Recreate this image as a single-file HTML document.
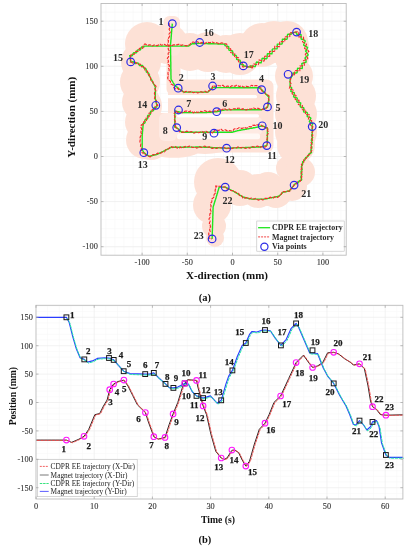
<!DOCTYPE html>
<html><head><meta charset="utf-8"><title>Figure</title>
<style>
html,body{margin:0;padding:0;background:#fff;}
body{width:408px;height:550px;overflow:hidden;}
svg{display:block;}
text{font-family:'Liberation Serif', 'Times New Roman', serif;}
.lb{font-size:9px;font-weight:bold;fill:#1a1a1a;stroke:#1a1a1a;stroke-width:0.25px;}
.lbt{font-size:10px;font-weight:bold;fill:#2a2a2a;}
.tk{font-size:8.3px;fill:#333;stroke:#333;stroke-width:0.12px;}
.ax{font-size:10.5px;font-weight:bold;fill:#111;}
.lg{font-size:7.9px;font-weight:bold;fill:#2a2a2a;}
.lg2{font-size:7.6px;fill:#222;}
</style></head>
<body>
<svg width="408" height="550" viewBox="0 0 408 550">
<rect width="408" height="550" fill="#fff"/>
<rect x="101" y="3.5" width="245.2" height="251.7" fill="#fff"/>
<path d="M105.9 3.5V255.2M115.0 3.5V255.2M124.0 3.5V255.2M133.1 3.5V255.2M142.1 3.5V255.2M151.1 3.5V255.2M160.2 3.5V255.2M169.2 3.5V255.2M178.3 3.5V255.2M187.3 3.5V255.2M196.3 3.5V255.2M205.4 3.5V255.2M214.4 3.5V255.2M223.5 3.5V255.2M232.5 3.5V255.2M241.5 3.5V255.2M250.6 3.5V255.2M259.6 3.5V255.2M268.7 3.5V255.2M277.7 3.5V255.2M286.7 3.5V255.2M295.8 3.5V255.2M304.8 3.5V255.2M313.9 3.5V255.2M322.9 3.5V255.2M331.9 3.5V255.2M341.0 3.5V255.2M101 246.7H346.2M101 237.7H346.2M101 228.7H346.2M101 219.6H346.2M101 210.6H346.2M101 201.6H346.2M101 192.6H346.2M101 183.6H346.2M101 174.5H346.2M101 165.5H346.2M101 156.5H346.2M101 147.5H346.2M101 138.5H346.2M101 129.4H346.2M101 120.4H346.2M101 111.4H346.2M101 102.4H346.2M101 93.4H346.2M101 84.3H346.2M101 75.3H346.2M101 66.3H346.2M101 57.3H346.2M101 48.3H346.2M101 39.2H346.2M101 30.2H346.2M101 21.2H346.2M101 12.2H346.2" stroke="#f6f6f6" stroke-width="0.6" fill="none"/>
<path d="M142.1 3.5V255.2M187.3 3.5V255.2M232.5 3.5V255.2M277.7 3.5V255.2M322.9 3.5V255.2M101 246.7H346.2M101 201.6H346.2M101 156.5H346.2M101 111.4H346.2M101 66.3H346.2M101 21.2H346.2" stroke="#ececec" stroke-width="0.7" fill="none"/>
<circle cx="147" cy="44" r="22" fill="#fde1d6"/>
<circle cx="141" cy="62" r="20" fill="#fde1d6"/>
<circle cx="140" cy="82" r="20" fill="#fde1d6"/>
<circle cx="141" cy="102" r="19" fill="#fde1d6"/>
<circle cx="144" cy="106" r="18" fill="#fde1d6"/>
<circle cx="143" cy="122" r="18" fill="#fde1d6"/>
<circle cx="145" cy="140" r="19" fill="#fde1d6"/>
<circle cx="151" cy="142" r="18" fill="#fde1d6"/>
<circle cx="168" cy="44" r="20" fill="#fde1d6"/>
<circle cx="190" cy="52" r="19" fill="#fde1d6"/>
<circle cx="208" cy="52" r="20" fill="#fde1d6"/>
<circle cx="226" cy="54" r="19" fill="#fde1d6"/>
<circle cx="240" cy="54" r="21" fill="#fde1d6"/>
<circle cx="262" cy="45" r="22" fill="#fde1d6"/>
<circle cx="274" cy="42" r="21" fill="#fde1d6"/>
<circle cx="287" cy="42" r="21" fill="#fde1d6"/>
<circle cx="291" cy="46" r="18" fill="#fde1d6"/>
<circle cx="292" cy="58" r="17" fill="#fde1d6"/>
<circle cx="294" cy="76" r="19" fill="#fde1d6"/>
<circle cx="296" cy="96" r="20" fill="#fde1d6"/>
<circle cx="296" cy="114" r="21" fill="#fde1d6"/>
<circle cx="296" cy="132" r="21" fill="#fde1d6"/>
<circle cx="296" cy="145" r="19" fill="#fde1d6"/>
<circle cx="300" cy="170" r="13" fill="#fde1d6"/>
<circle cx="288" cy="168" r="12" fill="#fde1d6"/>
<circle cx="218" cy="182" r="24" fill="#fde1d6"/>
<circle cx="212" cy="205" r="19" fill="#fde1d6"/>
<circle cx="214" cy="226" r="12" fill="#fde1d6"/>
<circle cx="215" cy="238" r="9" fill="#fde1d6"/>
<circle cx="240" cy="188" r="18" fill="#fde1d6"/>
<circle cx="258" cy="191" r="17" fill="#fde1d6"/>
<circle cx="268" cy="189" r="17" fill="#fde1d6"/>
<circle cx="276" cy="192" r="16" fill="#fde1d6"/>
<circle cx="292" cy="186" r="15" fill="#fde1d6"/>
<circle cx="300" cy="172" r="15" fill="#fde1d6"/>
<rect x="150" y="113" width="24" height="43" rx="6" fill="#fde1d6"/>
<rect x="166.5" y="40" width="14" height="55" rx="6" fill="#fde1d6"/>
<rect x="168" y="79.5" width="105.5" height="73" rx="7" fill="#fde1d6"/>
<rect x="165" y="95.1" width="92" height="3.2" rx="1.5" fill="#fff"/>
<rect x="176" y="117.6" width="86" height="17" rx="4" fill="#feeae3"/>
<rect x="177" y="114.3" width="82" height="3.3" rx="1.5" fill="#fff"/>
<rect x="177" y="133.6" width="83" height="5.6" rx="2" fill="#fff8f5"/>
<rect x="159" y="113" width="18" height="28" rx="6" fill="#feeae3"/>
<ellipse cx="174" cy="150" rx="26" ry="7.8" fill="#fde1d6"/>
<ellipse cx="205" cy="149" rx="20" ry="5" fill="#fde1d6"/>
<rect x="163.5" y="16" width="16.5" height="40" rx="6" fill="#fee4da"/>
<path d="M172.3 23.7 L172.2 24.5 L172.2 25.3 L172.1 26.2 L172.0 27.0 L172.0 27.8 L171.9 28.6 L171.8 29.4 L171.7 30.3 L171.7 31.1 L171.6 31.9 L171.5 32.7 L171.5 33.5 L171.4 34.4 L171.3 35.2 L171.3 36.0 L171.2 36.8 L171.1 37.6 L171.1 38.4 L171.0 39.3 L170.9 40.1 L170.8 40.9 L170.8 41.7 L170.7 42.5 L170.6 43.4 L170.6 44.2 L170.5 45.0 L170.5 45.8 L170.5 46.6 L170.5 47.4 L170.5 48.2 L170.6 49.0 L170.6 49.9 L170.6 50.7 L170.6 51.5 L170.6 52.3 L170.6 53.1 L170.6 53.9 L170.6 54.7 L170.7 55.5 L170.7 56.3 L170.7 57.1 L170.7 58.0 L170.7 58.8 L170.7 59.6 L170.7 60.4 L170.7 61.2 L170.8 62.0 L170.8 62.8 L170.8 63.6 L170.8 64.4 L170.8 65.2 L170.8 66.0 L170.8 66.9 L170.8 67.7 L170.8 68.5 L170.9 69.3 L170.9 70.1 L170.9 70.9 L170.9 71.7 L170.9 72.5 L170.9 73.3 L170.9 74.1 L170.9 75.0 L171.0 75.8 L171.0 76.6 L171.0 77.4 L171.0 78.2 L171.0 79.0 L171.4 79.8 L171.9 80.5 L172.3 81.2 L172.8 82.0 L173.2 82.8 L173.6 83.5 L174.1 84.2 L174.5 85.0 L175.1 85.5 L175.7 86.1 L176.3 86.6 L177.0 87.1 L177.6 87.7 L178.2 88.2 L178.9 88.7 L179.6 89.2 L180.3 89.7 L181.0 90.2 L181.7 90.6 L182.4 91.1 L183.1 91.6 L183.8 92.1 L184.6 92.1 L185.4 92.1 L186.2 92.1 L187.0 92.1 L187.8 92.1 L188.6 92.1 L189.4 92.1 L190.3 92.1 L191.1 92.1 L191.9 92.1 L192.7 92.1 L193.5 92.1 L194.3 92.1 L195.1 92.1 L195.9 92.1 L196.7 92.1 L197.5 92.1 L198.3 92.1 L199.1 92.1 L199.9 92.1 L200.7 92.1 L201.5 92.1 L202.4 92.1 L203.2 92.1 L204.0 92.1 L204.8 92.1 L205.6 92.1 L206.4 92.1 L207.2 92.1 L208.0 92.1 L208.6 91.5 L209.1 90.9 L209.7 90.4 L210.2 89.8 L210.8 89.2 L211.4 88.7 L211.9 88.1 L212.5 87.5 L213.3 87.5 L214.1 87.5 L214.9 87.5 L215.8 87.5 L216.6 87.6 L217.4 87.6 L218.2 87.6 L219.0 87.6 L219.8 87.6 L220.6 87.6 L221.4 87.6 L222.3 87.6 L223.1 87.6 L223.9 87.6 L224.7 87.6 L225.5 87.6 L226.3 87.6 L227.1 87.6 L228.0 87.6 L228.8 87.6 L229.6 87.7 L230.4 87.7 L231.2 87.7 L232.0 87.7 L232.8 87.7 L233.7 87.7 L234.5 87.7 L235.3 87.7 L236.1 87.7 L236.9 87.7 L237.7 87.7 L238.5 87.7 L239.4 87.7 L240.2 87.7 L241.0 87.7 L241.8 87.7 L242.6 87.7 L243.4 87.7 L244.2 87.7 L245.1 87.7 L245.9 87.7 L246.7 87.7 L247.5 87.7 L248.3 87.7 L249.1 87.8 L249.9 87.8 L250.8 87.8 L251.6 87.8 L252.4 87.8 L253.2 87.8 L254.0 87.8 L254.8 87.8 L255.6 87.8 L256.5 87.8 L257.3 87.8 L258.1 87.8 L258.9 87.8 L259.6 88.2 L260.2 88.7 L260.9 89.1 L261.6 89.6 L262.2 90.2 L262.8 90.8 L263.4 91.4 L264.0 92.1 L264.6 92.7 L265.2 93.3 L265.8 93.9 L266.4 94.5 L267.0 95.2 L267.6 95.8 L268.2 96.4 L268.8 97.0 L268.8 97.9 L268.7 98.8 L268.7 99.6 L268.6 100.5 L268.6 101.4 L268.6 102.2 L268.5 103.1 L268.5 104.0 L268.2 104.8 L267.9 105.7 L267.7 106.6 L267.4 107.4 L266.6 107.7 L265.7 108.1 L264.9 108.4 L264.1 108.7 L263.3 109.0 L262.4 109.4 L261.6 109.7 L260.8 109.7 L260.0 109.7 L259.2 109.7 L258.3 109.7 L257.5 109.7 L256.7 109.7 L255.9 109.7 L255.1 109.7 L254.3 109.7 L253.5 109.7 L252.7 109.7 L251.8 109.8 L251.0 109.8 L250.2 109.8 L249.4 109.8 L248.6 109.8 L247.8 109.8 L247.0 109.8 L246.1 109.8 L245.3 109.8 L244.5 109.8 L243.7 109.8 L242.9 109.8 L242.1 109.8 L241.3 109.8 L240.5 109.8 L239.6 109.8 L238.8 109.8 L238.0 109.8 L237.2 109.8 L236.4 109.8 L235.6 109.8 L234.8 109.8 L233.9 109.9 L233.1 109.9 L232.3 109.9 L231.5 109.9 L230.7 109.9 L229.9 109.9 L229.1 109.9 L228.3 109.9 L227.4 109.9 L226.6 109.9 L225.8 109.9 L225.0 109.9 L224.2 110.1 L223.3 110.3 L222.5 110.4 L221.7 110.6 L220.8 110.8 L220.0 111.0 L219.2 111.2 L218.4 111.3 L217.5 111.5 L216.7 111.7 L215.9 111.8 L215.0 111.8 L214.2 111.9 L213.4 112.0 L212.5 112.0 L211.7 112.1 L210.8 112.2 L210.0 112.2 L209.2 112.3 L208.3 112.3 L207.5 112.4 L206.7 112.5 L205.8 112.5 L205.0 112.6 L204.2 112.6 L203.4 112.6 L202.5 112.6 L201.7 112.6 L200.9 112.6 L200.1 112.6 L199.2 112.6 L198.4 112.6 L197.6 112.6 L196.8 112.6 L196.0 112.6 L195.1 112.6 L194.3 112.6 L193.5 112.6 L192.7 112.6 L191.9 112.6 L191.0 112.6 L190.2 112.6 L189.4 112.6 L188.6 112.6 L187.8 112.6 L186.9 112.6 L186.1 112.6 L185.3 112.6 L184.5 112.6 L183.6 112.6 L182.8 112.6 L182.0 112.6 L181.1 112.4 L180.2 112.2 L179.4 112.0 L178.5 111.8 L177.6 111.6 L176.8 111.4 L175.9 111.2 L175.0 111.0 L175.0 111.8 L175.0 112.6 L175.0 113.4 L174.9 114.2 L174.9 115.0 L174.9 115.8 L174.9 116.6 L174.9 117.4 L174.9 118.2 L174.8 119.0 L174.8 119.8 L174.8 120.6 L174.8 121.4 L174.8 122.2 L174.8 123.0 L174.8 123.8 L174.7 124.6 L174.7 125.4 L174.7 126.2 L174.7 127.0 L175.8 127.4 L176.9 127.8 L177.5 128.3 L178.1 128.9 L178.7 129.4 L179.2 130.0 L179.8 130.5 L180.4 131.1 L181.0 131.6 L181.6 132.2 L182.4 132.2 L183.2 132.2 L184.0 132.2 L184.8 132.2 L185.7 132.2 L186.5 132.2 L187.3 132.2 L188.1 132.2 L188.9 132.2 L189.7 132.2 L190.5 132.2 L191.3 132.2 L192.1 132.2 L193.0 132.2 L193.8 132.2 L194.6 132.2 L195.4 132.2 L196.2 132.2 L197.0 132.2 L197.8 132.2 L198.6 132.2 L199.5 132.2 L200.3 132.2 L201.1 132.2 L201.9 132.2 L202.7 132.2 L203.5 132.2 L204.3 132.2 L205.1 132.2 L205.9 132.2 L206.8 132.2 L207.6 132.2 L208.4 132.2 L209.2 132.2 L210.0 132.2 L210.8 132.2 L211.6 132.2 L212.4 132.2 L213.2 132.2 L214.0 132.2 L214.8 132.2 L215.6 132.2 L216.5 132.2 L217.3 132.2 L218.1 132.2 L218.9 132.2 L219.7 132.2 L220.5 132.2 L221.4 132.2 L222.2 132.2 L223.0 132.2 L223.8 132.2 L224.6 132.2 L225.5 132.2 L226.3 132.2 L227.1 132.2 L227.9 132.2 L228.7 132.2 L229.5 132.2 L230.4 132.2 L231.2 132.2 L232.0 132.2 L232.9 132.0 L233.7 131.7 L234.6 131.5 L235.4 131.3 L236.3 131.1 L237.1 130.8 L238.0 130.6 L238.8 130.5 L239.6 130.3 L240.4 130.2 L241.2 130.0 L242.0 129.9 L242.8 129.8 L243.6 129.6 L244.4 129.5 L245.2 129.3 L246.0 129.2 L246.8 129.0 L247.7 128.9 L248.5 128.8 L249.3 128.6 L250.2 128.4 L251.0 128.3 L251.8 128.2 L252.7 128.0 L253.5 127.8 L254.3 127.7 L255.2 127.6 L256.0 127.4 L256.8 127.2 L257.6 127.0 L258.3 126.8 L259.1 126.6 L259.9 126.4 L260.6 126.2 L261.4 126.0 L262.2 125.8 L262.9 126.1 L263.7 126.4 L264.4 126.7 L265.2 127.1 L265.9 127.4 L266.7 127.7 L267.4 128.0 L267.4 128.8 L267.4 129.7 L267.4 130.5 L267.4 131.3 L267.4 132.2 L267.4 133.0 L267.4 133.8 L267.4 134.7 L267.4 135.5 L267.4 136.3 L267.4 137.2 L267.4 138.0 L267.4 138.8 L267.4 139.7 L267.4 140.5 L267.4 141.3 L267.4 142.2 L267.4 143.0 L267.2 143.9 L267.0 144.7 L266.8 145.6 L265.9 145.8 L265.1 145.9 L264.2 146.1 L263.4 146.3 L262.6 146.5 L261.7 146.7 L260.9 146.8 L260.0 147.0 L259.2 147.0 L258.4 147.1 L257.6 147.1 L256.7 147.1 L255.9 147.1 L255.1 147.2 L254.3 147.2 L253.5 147.2 L252.7 147.3 L251.9 147.3 L251.0 147.3 L250.2 147.4 L249.4 147.4 L248.6 147.4 L247.8 147.4 L247.0 147.5 L246.2 147.5 L245.3 147.5 L244.5 147.6 L243.7 147.6 L242.9 147.6 L242.1 147.6 L241.3 147.7 L240.4 147.7 L239.6 147.7 L238.8 147.8 L238.0 147.8 L237.2 147.8 L236.4 147.8 L235.6 147.9 L234.7 147.9 L233.9 147.9 L233.1 148.0 L232.3 148.0 L231.5 148.0 L230.7 148.1 L229.9 148.1 L229.0 148.1 L228.2 148.1 L227.4 148.2 L226.6 148.2 L225.8 148.2 L225.0 148.1 L224.2 148.1 L223.4 148.1 L222.6 148.0 L221.8 148.0 L221.0 147.9 L220.2 147.9 L219.3 147.9 L218.5 147.8 L217.7 147.8 L216.9 147.8 L216.1 147.7 L215.3 147.7 L214.5 147.7 L213.7 147.6 L212.9 147.6 L212.1 147.5 L211.3 147.5 L210.5 147.5 L209.7 147.4 L208.9 147.4 L208.1 147.4 L207.3 147.3 L206.4 147.3 L205.6 147.3 L204.8 147.2 L204.0 147.2 L203.2 147.1 L202.4 147.1 L201.6 147.1 L200.8 147.0 L200.0 147.0 L199.2 147.0 L198.4 147.0 L197.5 147.0 L196.7 147.0 L195.9 147.0 L195.1 147.1 L194.3 147.1 L193.4 147.1 L192.6 147.1 L191.8 147.1 L191.0 147.1 L190.2 147.1 L189.3 147.1 L188.5 147.1 L187.7 147.1 L186.9 147.1 L186.1 147.1 L185.2 147.2 L184.4 147.2 L183.6 147.2 L182.8 147.2 L182.0 147.2 L181.1 147.2 L180.3 147.2 L179.5 147.2 L178.7 147.2 L177.9 147.2 L177.0 147.2 L176.2 147.2 L175.4 147.3 L174.6 147.3 L173.8 147.3 L172.9 147.3 L172.1 147.3 L171.3 147.3 L170.6 147.7 L169.8 148.0 L169.1 148.4 L168.4 148.8 L167.6 149.1 L166.9 149.5 L166.1 149.9 L165.4 150.2 L164.7 150.6 L163.9 151.0 L163.2 151.4 L162.5 151.7 L161.7 152.1 L161.0 152.5 L160.2 152.8 L159.5 153.2 L158.8 153.6 L158.0 153.9 L157.3 154.3 L156.5 154.5 L155.7 154.7 L154.9 154.9 L154.1 155.1 L153.2 155.3 L152.4 155.5 L151.6 155.7 L150.8 155.9 L150.0 156.1 L149.2 156.3 L148.5 155.9 L147.8 155.4 L147.2 154.9 L146.5 154.5 L145.8 154.1 L145.2 153.6 L144.5 153.1 L143.8 152.7 L143.4 151.8 L143.0 151.0 L142.6 150.2 L142.2 149.3 L142.2 148.5 L142.2 147.6 L142.2 146.8 L142.2 146.0 L142.2 145.2 L142.2 144.3 L142.2 143.5 L142.2 142.7 L142.2 141.8 L142.2 141.0 L142.2 140.2 L142.2 139.3 L142.2 138.5 L142.2 137.7 L142.2 136.9 L142.2 136.0 L142.2 135.2 L142.3 134.4 L142.4 133.5 L142.4 132.7 L142.5 131.8 L142.6 131.0 L142.7 130.1 L142.7 129.3 L142.8 128.4 L142.9 127.6 L143.0 126.7 L143.0 125.9 L143.1 125.0 L142.7 123.9 L143.7 123.5 L144.6 123.2 L145.1 122.5 L145.0 121.4 L144.8 120.4 L145.2 119.7 L146.2 119.3 L147.2 119.0 L147.8 118.3 L147.6 117.3 L147.5 116.3 L147.8 115.5 L148.8 115.1 L149.8 114.8 L150.4 114.2 L150.3 113.2 L150.4 112.1 L150.7 111.3 L151.8 111.1 L152.9 110.9 L153.6 110.4 L153.6 109.4 L153.7 108.3 L154.1 107.5 L155.2 107.4 L156.2 107.2 L156.9 106.6 L156.9 105.5 L156.7 104.7 L156.5 103.9 L156.3 103.1 L156.1 102.2 L155.9 101.4 L155.7 100.6 L155.5 99.8 L155.3 99.0 L155.3 98.2 L155.3 97.4 L155.3 96.6 L155.3 95.8 L155.3 95.0 L155.3 94.2 L155.3 93.4 L155.3 92.6 L155.3 91.8 L155.3 91.0 L155.3 90.2 L155.3 89.4 L155.3 88.6 L155.3 87.8 L155.3 87.0 L154.9 86.3 L154.5 85.5 L154.2 84.8 L153.8 84.1 L153.4 83.3 L153.0 82.6 L152.6 81.9 L152.2 81.2 L151.9 80.4 L151.5 79.7 L151.1 79.0 L150.7 78.2 L150.3 77.5 L150.0 76.8 L149.6 76.0 L148.8 75.5 L148.9 74.5 L148.9 73.5 L148.2 72.9 L147.2 72.5 L146.3 72.0 L146.2 71.1 L146.2 70.1 L146.2 69.1 L145.3 68.6 L144.4 68.2 L143.8 68.0 L143.4 67.1 L142.9 66.3 L142.5 65.4 L141.6 65.4 L140.6 65.5 L139.6 65.5 L139.1 64.8 L138.7 64.0 L138.2 63.1 L137.3 62.9 L136.4 63.2 L135.4 63.6 L134.7 63.2 L134.0 62.5 L133.3 61.8 L132.4 61.8 L131.5 62.2 L130.7 61.9 L130.6 61.1 L130.5 60.3 L130.4 59.5 L130.4 58.7 L130.3 57.9 L130.2 57.1 L129.7 55.7 L130.7 55.8 L131.8 55.8 L132.5 55.4 L132.8 54.4 L133.1 53.4 L133.7 52.8 L134.8 52.8 L135.8 52.9 L136.6 52.5 L136.9 51.5 L137.1 50.5 L137.7 49.9 L138.8 49.9 L139.8 50.0 L140.6 49.6 L140.9 48.6 L141.2 47.6 L141.7 46.9 L142.8 47.0 L143.9 47.0 L144.2 46.1 L145.0 46.1 L145.8 46.1 L146.6 46.1 L147.4 46.1 L148.2 46.1 L149.0 46.1 L149.8 46.1 L150.6 46.1 L151.5 46.1 L152.3 46.1 L153.1 46.1 L153.9 46.1 L154.7 46.1 L155.5 46.1 L156.3 46.1 L157.1 46.1 L157.9 46.1 L158.7 46.1 L159.5 46.1 L160.3 46.1 L161.1 46.1 L161.9 46.1 L162.7 46.1 L163.6 46.1 L164.4 46.1 L165.2 46.1 L166.0 46.1 L166.8 46.1 L167.6 46.1 L168.4 46.1 L169.2 46.1 L170.0 46.1 L170.8 46.1 L171.6 46.1 L172.4 46.1 L173.2 46.1 L174.0 46.1 L174.8 46.1 L175.6 46.1 L176.4 46.1 L177.2 46.1 L178.0 46.1 L178.8 46.1 L179.7 46.1 L180.5 46.1 L181.3 46.1 L182.1 46.1 L182.9 46.1 L183.7 46.1 L184.5 46.1 L185.3 46.1 L186.1 46.1 L186.9 46.1 L187.7 46.1 L188.5 46.1 L189.2 45.6 L189.9 45.2 L190.6 44.7 L191.3 44.3 L192.0 43.8 L192.9 43.8 L193.7 43.7 L194.6 43.7 L195.4 43.6 L196.3 43.6 L197.1 43.5 L198.0 43.5 L198.8 43.4 L199.7 43.4 L200.5 43.4 L201.3 43.5 L202.2 43.5 L203.0 43.5 L203.8 43.5 L204.6 43.6 L205.5 43.6 L206.3 43.6 L207.1 43.6 L207.9 43.7 L208.7 43.7 L209.6 43.7 L210.4 43.7 L211.2 43.8 L212.0 43.8 L212.9 43.8 L213.7 43.8 L214.5 43.9 L215.3 43.9 L216.2 43.9 L217.0 43.9 L217.8 44.0 L218.6 44.0 L219.4 44.0 L220.3 44.0 L221.1 44.1 L221.9 44.1 L222.7 44.1 L223.6 44.1 L224.4 44.2 L224.9 44.5 L224.9 45.5 L225.7 45.9 L226.8 46.1 L227.8 46.3 L228.7 46.6 L228.8 47.7 L228.8 48.7 L228.8 49.8 L229.4 50.4 L230.4 50.6 L231.4 50.8 L232.5 51.0 L232.7 51.9 L232.7 53.0 L232.7 54.1 L233.0 54.9 L234.0 55.1 L235.1 55.3 L236.1 55.5 L236.5 56.2 L236.6 57.3 L236.6 58.3 L236.6 59.4 L237.6 59.7 L238.7 59.9 L239.7 60.1 L240.3 60.7 L240.3 61.8 L240.3 62.9 L240.3 64.0 L241.2 64.3 L242.3 64.6 L243.3 64.8 L243.3 65.9 L244.1 66.0 L244.9 66.2 L245.7 66.3 L246.5 66.5 L247.3 66.6 L248.1 66.7 L248.9 66.9 L249.7 67.0 L250.5 67.2 L250.4 66.0 L251.4 66.0 L252.5 66.2 L253.7 66.4 L254.8 66.6 L255.4 66.1 L255.7 65.0 L255.9 63.9 L256.2 62.7 L256.7 62.0 L257.8 62.2 L258.9 62.5 L260.0 62.7 L261.1 62.9 L261.4 61.7 L261.6 60.6 L261.9 59.5 L262.1 58.4 L263.0 58.3 L264.1 58.5 L265.3 58.7 L266.5 58.7 L267.1 58.1 L267.1 57.0 L267.2 55.9 L267.2 54.8 L267.4 53.8 L268.5 53.8 L269.6 53.8 L270.7 53.8 L271.9 53.8 L272.1 52.9 L272.2 51.8 L272.2 50.7 L272.2 49.6 L272.8 48.9 L273.9 48.9 L275.0 48.9 L276.1 48.9 L277.1 48.8 L277.2 47.7 L277.2 46.6 L277.3 45.5 L277.3 44.3 L278.1 44.1 L279.3 44.1 L280.4 44.1 L281.5 44.1 L282.2 43.6 L282.2 42.5 L282.3 41.4 L282.3 40.2 L282.4 39.2 L283.5 39.2 L284.7 39.2 L285.8 39.2 L286.9 39.2 L287.2 38.4 L287.3 37.3 L287.3 36.1 L287.4 35.0 L287.8 34.3 L288.9 34.3 L290.1 34.3 L291.2 34.3 L291.1 33.1 L292.0 32.9 L292.9 32.8 L293.9 32.6 L294.8 32.4 L295.7 32.3 L296.3 32.3 L296.4 33.4 L296.7 34.2 L297.8 34.3 L298.9 34.4 L300.0 34.5 L301.1 34.6 L301.1 35.6 L301.1 36.7 L301.1 37.8 L301.1 38.9 L301.8 39.4 L302.8 39.3 L303.8 39.9 L304.8 40.4 L305.2 41.2 L304.7 42.2 L304.3 43.3 L303.8 44.3 L303.7 45.2 L304.7 45.8 L305.7 46.4 L306.7 46.9 L307.6 47.5 L307.1 48.6 L306.6 49.6 L306.2 50.7 L305.6 51.0 L306.2 51.9 L306.9 52.8 L307.5 53.7 L308.1 54.6 L307.8 55.4 L306.9 56.1 L306.1 56.8 L305.3 57.5 L305.0 58.3 L305.7 59.0 L305.9 60.1 L306.1 61.3 L306.0 62.2 L304.9 62.5 L303.8 62.9 L302.7 63.2 L301.8 63.6 L302.0 64.8 L302.2 65.9 L302.4 67.0 L302.2 68.5 L301.1 68.4 L300.0 68.4 L298.9 68.4 L297.7 68.3 L297.4 69.3 L297.3 70.4 L297.2 71.5 L297.1 72.6 L296.4 73.0 L295.2 73.0 L294.1 73.0 L293.0 72.9 L293.1 74.3 L292.7 75.0 L292.2 75.8 L291.8 76.5 L291.4 77.2 L291.0 77.9 L290.5 78.7 L290.1 79.4 L290.1 80.2 L290.1 81.1 L290.1 81.9 L290.1 82.8 L290.1 83.6 L290.1 84.5 L290.1 85.3 L290.1 86.2 L290.3 86.9 L291.4 87.3 L291.7 88.1 L291.4 89.3 L291.0 90.4 L290.8 91.4 L291.9 91.8 L293.1 92.3 L294.2 92.7 L294.4 93.5 L294.0 94.6 L293.7 95.8 L293.6 96.8 L294.7 97.3 L295.8 97.5 L296.8 97.8 L297.3 98.4 L297.1 99.5 L297.0 100.6 L296.8 101.7 L297.6 102.2 L298.7 102.4 L299.7 102.7 L300.7 103.0 L300.5 104.1 L300.4 105.2 L300.2 106.3 L300.5 107.0 L301.5 107.3 L302.6 107.5 L303.7 107.8 L303.9 108.6 L303.8 109.7 L303.7 110.8 L303.6 111.9 L304.7 112.1 L305.8 112.3 L307.0 112.5 L307.5 113.1 L307.4 114.3 L307.3 115.4 L307.2 116.5 L308.1 116.9 L309.2 117.1 L310.2 117.6 L310.9 118.3 L310.4 119.3 L309.9 120.4 L309.4 121.4 L309.8 122.1 L310.8 122.7 L311.8 123.2 L312.8 123.8 L312.3 124.8 L311.8 125.9 L312.2 126.6 L312.2 127.5 L312.2 128.3 L312.2 129.2 L312.2 130.0 L312.2 130.9 L312.2 131.8 L312.2 132.6 L312.2 133.5 L312.2 134.3 L311.6 135.2 L312.0 136.0 L312.3 136.9 L312.6 137.7 L312.1 138.5 L311.7 139.3 L311.3 140.1 L311.7 141.0 L312.0 141.9 L312.3 142.7 L311.8 143.5 L311.4 144.3 L311.0 145.1 L311.3 146.0 L311.7 146.9 L311.9 147.8 L311.5 148.6 L311.0 149.5 L310.8 150.3 L311.2 151.2 L311.5 152.3 L310.9 153.0 L310.1 153.4 L309.2 153.8 L308.6 154.4 L308.4 155.3 L308.1 156.3 L307.4 156.8 L306.5 157.2 L305.7 157.5 L305.2 158.3 L305.0 159.2 L304.8 160.0 L304.1 160.7 L303.4 161.3 L302.6 161.9 L302.6 162.8 L302.6 163.8 L302.6 164.5 L302.1 165.3 L301.6 166.2 L301.3 167.0 L301.6 167.8 L302.0 168.7 L302.2 169.5 L301.8 170.3 L301.3 171.1 L301.0 172.0 L301.3 172.8 L301.7 173.6 L302.0 174.4 L301.6 175.2 L301.2 176.0 L300.8 176.8 L301.0 177.6 L301.4 178.4 L301.7 179.2 L301.4 180.2 L300.4 180.4 L299.5 180.6 L298.9 181.3 L298.5 182.2 L298.0 183.0 L297.0 183.2 L296.1 183.4 L295.2 183.6 L294.7 184.5 L294.1 185.1 L293.5 185.8 L293.0 186.4 L292.4 187.1 L291.9 187.8 L291.3 188.4 L290.8 189.1 L290.2 189.8 L289.7 190.4 L289.1 191.1 L288.2 191.2 L287.4 191.4 L286.5 191.5 L285.7 191.7 L284.8 191.8 L284.0 192.0 L283.1 192.1 L282.5 192.7 L282.0 193.2 L281.4 193.8 L280.8 194.4 L280.2 195.0 L279.7 195.5 L279.1 196.1 L278.3 196.3 L277.5 196.4 L276.8 196.6 L276.0 196.8 L275.2 196.9 L274.4 197.1 L273.6 197.3 L272.8 197.4 L272.1 197.6 L271.3 197.8 L270.5 197.9 L269.7 198.1 L268.9 198.3 L268.1 198.4 L267.4 198.6 L266.6 198.8 L265.8 198.9 L265.0 199.1 L264.2 199.1 L263.4 199.1 L262.6 199.1 L261.8 199.1 L261.0 199.1 L260.2 199.1 L259.4 199.1 L258.6 199.1 L257.7 199.1 L256.9 199.1 L256.1 199.1 L255.3 199.1 L254.5 199.1 L253.7 199.1 L252.9 199.1 L252.1 199.1 L251.3 199.1 L250.5 198.9 L249.7 198.7 L248.9 198.5 L248.1 198.3 L247.3 198.1 L246.5 197.9 L245.7 197.7 L244.9 197.5 L244.1 197.3 L243.3 197.1 L242.6 196.7 L241.9 196.2 L241.1 195.8 L240.4 195.4 L239.7 195.0 L239.0 194.5 L238.2 194.1 L237.5 193.7 L236.8 193.2 L236.1 192.8 L235.4 192.4 L234.6 192.0 L233.9 191.5 L233.2 191.1 L232.5 190.7 L231.7 190.4 L231.0 190.0 L230.3 189.6 L229.6 189.3 L228.8 188.9 L228.1 188.6 L227.4 188.2 L226.7 187.8 L225.9 187.5 L225.2 187.1 L224.3 187.1 L223.5 187.1 L222.6 187.1 L221.8 187.1 L220.9 187.1 L220.1 187.1 L219.2 187.1 L219.0 187.9 L218.7 188.6 L218.5 189.4 L218.3 190.2 L218.0 190.9 L217.8 191.7 L217.6 192.5 L217.4 193.3 L217.1 194.0 L216.9 194.8 L216.7 195.6 L216.4 196.3 L216.2 197.1 L216.0 197.9 L215.7 198.7 L215.5 199.4 L215.2 200.2 L215.0 201.0 L214.8 201.8 L214.5 202.5 L214.3 203.3 L214.1 204.1 L213.8 204.9 L213.6 205.6 L213.3 206.4 L213.1 207.2 L213.1 208.0 L213.1 208.8 L213.0 209.7 L213.0 210.5 L213.0 211.3 L213.0 212.1 L212.9 213.0 L212.9 213.8 L212.9 214.6 L212.9 215.4 L212.8 216.3 L212.8 217.1 L212.8 217.9 L212.8 218.7 L212.7 219.6 L212.7 220.4 L212.7 221.2 L212.7 222.0 L212.6 222.8 L212.6 223.6 L212.6 224.4 L212.6 225.2 L212.5 226.0 L212.5 226.8 L212.5 227.6 L212.5 228.4 L212.4 229.2 L212.4 230.1 L212.4 230.9 L212.3 231.7 L212.3 232.5 L212.3 233.3 L212.3 234.1 L212.2 234.9 L212.2 235.7 L212.2 236.5 L212.2 237.3 L212.1 238.1 L212.1 238.9" stroke="#1ee61e" stroke-width="1.4" fill="none" stroke-linejoin="round"/>
<path d="M169.7 23.5 L169.2 24.3 L168.9 25.1 L169.6 25.9 L169.7 26.8 L169.8 27.6 L169.6 28.4 L169.1 29.2 L169.5 30.1 L169.8 30.9 L170.3 31.8 L170.2 32.6 L169.6 33.4 L169.0 34.1 L169.3 35.0 L169.6 35.8 L169.5 36.7 L168.9 37.4 L168.5 38.2 L168.1 39.0 L167.8 39.8 L168.5 40.7 L168.3 41.5 L168.3 42.3 L167.9 43.1 L167.7 43.9 L167.8 45.0 L168.2 45.8 L168.9 46.6 L168.6 47.5 L168.2 48.3 L168.3 49.1 L168.5 49.9 L169.3 50.7 L169.4 51.5 L169.1 52.3 L168.3 53.1 L168.1 53.9 L168.3 54.7 L168.5 55.6 L168.6 56.4 L168.3 57.2 L167.5 58.0 L167.4 58.8 L167.9 59.6 L168.2 60.4 L168.5 61.2 L168.2 62.0 L168.0 62.9 L168.2 63.7 L168.3 64.5 L169.3 65.3 L169.4 66.1 L169.0 66.9 L168.9 67.7 L168.6 68.5 L169.1 69.3 L169.1 70.1 L169.1 70.9 L168.7 71.7 L168.0 72.6 L168.0 73.4 L168.0 74.2 L168.4 75.0 L168.6 75.8 L168.3 76.6 L167.7 77.4 L167.7 78.2 L168.7 80.3 L169.6 80.8 L170.5 81.3 L170.4 82.3 L170.7 83.2 L171.1 84.0 L172.0 84.4 L173.0 84.9 L173.5 86.2 L173.7 87.2 L174.2 87.8 L174.7 88.5 L175.7 88.7 L176.4 89.1 L178.3 88.1 L178.4 89.3 L179.2 89.8 L180.0 90.1 L180.9 90.2 L181.6 90.7 L182.4 91.1 L182.9 92.0 L183.8 92.5 L184.6 92.1 L185.4 91.6 L186.2 91.4 L187.0 91.5 L187.8 91.9 L188.6 92.0 L189.4 91.9 L190.3 91.7 L191.1 91.4 L191.9 91.9 L192.7 92.5 L193.5 92.6 L194.3 92.5 L195.1 92.2 L195.9 92.1 L196.7 92.3 L197.5 92.9 L198.3 92.8 L199.1 92.4 L199.9 92.0 L200.7 91.7 L201.5 91.9 L202.4 92.2 L203.2 92.2 L204.0 91.4 L204.8 91.4 L205.6 91.4 L206.4 91.9 L207.2 92.3 L208.1 92.2 L208.5 91.5 L208.8 90.6 L209.6 90.3 L210.3 89.9 L211.3 89.7 L211.9 89.2 L212.2 88.3 L212.5 86.0 L213.3 85.8 L214.1 86.0 L215.0 86.3 L215.8 86.2 L216.6 85.8 L217.4 85.1 L218.2 85.5 L219.0 85.7 L219.8 85.8 L220.6 85.9 L221.5 85.6 L222.3 85.3 L223.1 85.4 L223.9 86.3 L224.7 86.9 L225.5 86.7 L226.3 86.5 L227.2 86.0 L228.0 86.1 L228.8 86.6 L229.6 86.9 L230.4 87.0 L231.2 86.1 L232.0 85.6 L232.9 86.0 L233.7 86.1 L234.5 86.1 L235.3 86.1 L236.1 85.3 L236.9 85.3 L237.7 85.7 L238.6 86.1 L239.4 86.5 L240.2 86.2 L241.0 86.0 L241.8 85.8 L242.6 86.4 L243.4 86.8 L244.2 87.3 L245.1 86.9 L245.9 86.4 L246.7 86.4 L247.5 86.6 L248.3 86.8 L249.1 86.9 L249.9 86.6 L250.8 85.9 L251.6 85.3 L252.4 85.6 L253.2 85.9 L254.0 86.0 L254.8 85.8 L255.7 85.6 L256.5 85.5 L257.3 86.0 L258.1 86.8 L259.4 87.0 L260.0 87.6 L260.9 87.8 L261.6 88.1 L261.4 89.8 L261.8 90.6 L262.3 91.3 L263.2 91.6 L264.2 91.8 L264.8 92.4 L265.2 93.3 L265.6 94.1 L266.4 94.5 L267.4 94.8 L268.2 95.2 L268.9 95.7 L268.9 97.0 L268.4 97.9 L268.5 98.7 L268.8 99.6 L268.9 100.5 L268.5 101.4 L267.6 102.2 L267.7 103.1 L267.9 103.8 L268.0 104.8 L267.9 105.7 L267.3 106.4 L267.1 106.7 L266.5 107.6 L266.0 108.7 L265.3 109.3 L264.3 109.3 L263.2 108.9 L262.4 109.4 L261.6 109.6 L260.8 109.5 L260.0 109.2 L259.2 108.7 L258.3 108.4 L257.5 108.4 L256.7 108.9 L255.9 109.2 L255.1 108.5 L254.3 108.2 L253.5 108.0 L252.6 108.1 L251.8 108.9 L251.0 109.1 L250.2 109.1 L249.4 109.1 L248.6 109.0 L247.8 109.3 L247.0 109.8 L246.1 109.9 L245.3 109.8 L244.5 109.2 L243.7 109.0 L242.9 108.7 L242.1 109.3 L241.3 109.3 L240.4 108.9 L239.6 108.2 L238.8 108.2 L238.0 108.1 L237.2 108.8 L236.4 109.0 L235.6 108.9 L234.8 108.8 L233.9 108.6 L233.1 109.1 L232.3 109.8 L231.5 109.7 L230.7 109.8 L229.9 109.3 L229.1 109.0 L228.3 109.4 L227.4 109.9 L226.6 109.8 L225.8 109.4 L224.7 108.7 L223.9 108.9 L223.1 109.1 L222.4 109.7 L221.5 109.9 L220.5 109.4 L219.7 109.3 L218.9 109.6 L218.1 110.2 L217.4 110.8 L216.7 111.2 L215.8 110.9 L215.0 110.9 L214.1 111.2 L213.3 111.7 L212.5 112.2 L211.7 112.0 L210.8 111.5 L209.9 111.1 L209.1 111.4 L208.3 111.7 L207.5 111.7 L206.6 111.6 L205.7 111.0 L205.0 110.7 L204.2 111.1 L203.4 111.8 L202.5 112.0 L201.7 111.5 L200.9 111.4 L200.1 111.5 L199.2 112.1 L198.4 112.3 L197.6 112.4 L196.8 112.0 L196.0 112.1 L195.1 111.8 L194.3 112.2 L193.5 112.8 L192.7 112.2 L191.9 111.6 L191.0 111.5 L190.2 111.0 L189.4 111.6 L188.6 111.8 L187.8 111.4 L186.9 111.0 L186.1 111.1 L185.3 111.1 L184.5 111.6 L183.6 112.2 L182.8 112.2 L182.0 112.7 L181.2 112.1 L180.1 112.7 L179.2 112.7 L178.3 112.7 L177.5 112.3 L176.7 111.5 L175.9 111.1 L175.2 111.0 L175.6 111.8 L174.8 112.6 L174.4 113.4 L173.9 114.2 L174.3 115.0 L174.6 115.8 L175.1 116.6 L174.7 117.4 L174.6 118.2 L174.4 119.0 L174.5 119.8 L174.8 120.6 L175.3 121.4 L175.6 122.2 L175.3 123.0 L174.6 123.8 L174.9 124.6 L175.2 125.4 L175.7 126.2 L175.0 126.2 L175.7 127.7 L176.6 128.2 L177.5 128.4 L177.9 129.1 L178.6 129.6 L178.8 130.5 L179.4 131.0 L179.8 131.8 L180.9 131.7 L181.6 132.2 L182.4 131.9 L183.2 132.1 L184.0 132.4 L184.8 132.4 L185.7 131.6 L186.5 131.1 L187.3 131.4 L188.1 131.7 L188.9 132.0 L189.7 132.1 L190.5 131.8 L191.3 131.6 L192.1 131.9 L193.0 132.5 L193.8 133.1 L194.6 132.9 L195.4 132.6 L196.2 132.1 L197.0 132.2 L197.8 132.4 L198.6 132.7 L199.5 132.4 L200.3 132.1 L201.1 131.6 L201.9 131.4 L202.7 131.9 L203.5 132.4 L204.3 131.8 L205.1 131.8 L205.9 131.3 L206.8 131.6 L207.6 132.4 L208.4 132.6 L209.2 132.7 L210.0 132.4 L210.8 132.4 L211.6 132.3 L212.4 133.0 L213.2 133.2 L214.0 131.2 L214.8 130.5 L215.6 130.1 L216.5 129.9 L217.3 130.3 L218.1 130.4 L218.9 130.4 L219.7 129.7 L220.5 129.3 L221.4 129.4 L222.2 130.3 L223.0 130.7 L223.8 130.5 L224.6 130.0 L225.5 129.9 L226.3 130.3 L227.1 130.9 L227.9 131.1 L228.7 131.1 L229.5 130.5 L230.4 130.7 L231.2 130.9 L231.7 131.0 L232.5 130.7 L233.3 130.3 L233.9 129.2 L234.8 128.8 L235.7 128.7 L236.7 129.0 L237.7 128.6 L238.4 128.1 L239.1 127.6 L240.0 127.9 L240.9 128.0 L241.7 128.5 L242.5 128.2 L243.3 127.9 L244.0 127.4 L244.9 127.5 L245.8 128.0 L246.7 128.1 L247.5 127.8 L248.2 127.1 L249.0 126.7 L249.8 126.6 L250.7 126.8 L251.6 126.7 L252.3 125.9 L253.0 125.2 L253.9 125.3 L254.7 125.1 L255.6 125.7 L256.4 125.6 L257.0 124.8 L257.8 124.8 L258.6 124.8 L259.5 124.9 L260.4 125.3 L261.2 125.2 L262.1 126.1 L262.9 126.2 L263.7 126.5 L264.2 127.2 L264.9 127.8 L265.6 128.0 L266.6 127.7 L267.7 128.0 L268.0 128.8 L267.7 129.7 L267.6 130.5 L267.8 131.3 L268.1 132.2 L268.3 133.0 L268.2 133.8 L267.3 134.7 L267.0 135.5 L266.9 136.3 L267.2 137.2 L267.4 138.0 L267.2 138.8 L266.9 139.7 L266.3 140.5 L266.6 141.3 L267.3 142.2 L267.6 143.0 L267.2 143.9 L267.0 144.7 L266.7 145.3 L266.1 146.3 L265.3 147.0 L264.4 147.1 L263.5 146.6 L262.6 146.6 L261.7 146.6 L260.9 147.0 L260.0 147.5 L259.2 147.2 L258.4 146.5 L257.5 146.2 L256.7 146.3 L255.9 146.9 L255.1 147.1 L254.3 147.2 L253.5 146.8 L252.6 146.7 L251.8 146.9 L251.1 147.8 L250.2 148.0 L249.4 148.1 L248.6 147.8 L247.8 147.6 L247.0 147.8 L246.2 148.2 L245.4 148.3 L244.5 148.0 L243.7 147.4 L242.9 147.2 L242.1 147.4 L241.3 147.9 L240.4 147.5 L239.6 147.5 L238.8 146.7 L238.0 146.7 L237.2 147.6 L236.4 147.9 L235.6 147.9 L234.7 147.7 L233.9 147.7 L233.1 147.9 L232.3 148.5 L231.5 148.6 L230.7 149.1 L229.9 148.5 L229.1 148.4 L228.2 148.1 L227.4 148.2 L226.6 148.9 L225.8 148.3 L225.0 147.9 L224.2 147.2 L223.4 147.2 L222.6 147.7 L221.8 147.7 L221.0 147.9 L220.2 147.7 L219.4 147.4 L218.6 147.3 L217.7 147.8 L216.9 148.4 L216.1 148.5 L215.3 148.1 L214.5 147.8 L213.7 147.6 L212.9 148.3 L212.1 148.3 L211.3 148.1 L210.5 147.9 L209.7 146.9 L208.9 146.9 L208.1 147.0 L207.2 147.5 L206.4 147.3 L205.7 146.8 L204.9 146.1 L204.1 146.3 L203.2 146.8 L202.4 147.2 L201.6 147.4 L200.8 147.2 L200.0 146.9 L199.2 146.7 L198.4 147.5 L197.5 147.7 L196.7 148.0 L195.9 147.6 L195.1 147.1 L194.3 147.2 L193.4 147.5 L192.6 147.4 L191.8 147.2 L191.0 146.6 L190.2 146.3 L189.3 146.2 L188.5 146.6 L187.7 147.0 L186.9 146.8 L186.1 146.8 L185.2 146.3 L184.4 146.8 L183.6 147.2 L182.8 147.7 L182.0 147.8 L181.1 147.6 L180.3 147.0 L179.5 147.7 L178.7 148.0 L177.9 148.2 L177.0 147.9 L176.2 147.1 L175.4 146.6 L174.6 147.1 L173.8 147.2 L172.9 147.5 L172.1 147.0 L171.0 146.6 L170.2 147.0 L169.6 147.7 L169.1 148.5 L168.3 148.8 L167.6 149.1 L166.8 149.4 L166.0 149.5 L165.4 150.3 L165.0 151.3 L164.4 151.9 L163.5 152.0 L162.6 152.0 L161.8 152.2 L161.2 152.9 L160.6 153.4 L159.7 153.6 L158.7 153.4 L157.6 153.1 L157.1 153.5 L156.4 154.2 L155.7 154.7 L154.8 154.7 L153.9 154.6 L153.1 154.6 L152.4 155.3 L151.7 155.9 L150.9 156.2 L150.2 156.8 L149.1 156.4 L148.6 155.8 L147.8 155.5 L146.7 155.7 L145.9 155.3 L145.4 154.6 L145.1 153.6 L144.7 152.9 L142.8 153.2 L142.0 152.5 L141.7 151.6 L141.4 150.7 L141.3 149.3 L141.5 148.5 L141.1 147.6 L140.5 146.8 L140.6 146.0 L140.6 145.2 L140.9 144.3 L140.8 143.5 L140.2 142.7 L139.9 141.8 L140.1 141.0 L140.2 140.2 L140.4 139.3 L140.3 138.5 L140.1 137.7 L140.2 136.9 L140.7 136.0 L141.2 135.1 L141.5 134.3 L141.4 133.4 L140.9 132.5 L141.0 131.7 L141.2 130.8 L142.0 130.1 L141.6 129.2 L141.4 128.3 L140.9 127.4 L140.8 126.5 L141.1 125.7 L141.4 124.9 L143.8 124.6 L143.6 123.5 L143.5 122.4 L143.9 121.7 L144.9 121.4 L146.0 121.1 L146.5 120.5 L146.3 119.4 L146.1 118.3 L146.5 117.5 L147.5 117.2 L148.5 116.9 L149.2 116.3 L149.0 115.2 L148.8 114.2 L149.0 113.3 L150.1 113.0 L151.2 112.9 L152.0 112.4 L152.0 111.3 L152.0 110.2 L152.4 109.4 L153.5 109.2 L154.6 109.1 L155.3 108.6 L155.3 107.4 L155.3 106.3 L155.8 105.6 L157.7 105.3 L157.4 104.5 L156.6 103.9 L156.1 103.1 L156.3 102.2 L156.6 101.3 L156.4 100.5 L155.7 99.8 L155.1 99.0 L154.5 98.2 L154.8 97.4 L155.2 96.6 L155.5 95.8 L155.1 95.0 L154.7 94.2 L154.4 93.4 L154.6 92.6 L155.1 91.8 L155.8 91.0 L155.6 90.2 L155.1 89.4 L154.9 88.6 L155.5 87.8 L156.0 86.6 L155.7 85.8 L155.0 85.3 L154.4 84.7 L153.9 84.0 L153.3 83.4 L153.1 82.6 L152.9 81.8 L152.1 81.2 L151.4 80.7 L150.6 80.2 L150.7 79.2 L150.7 78.2 L150.3 77.5 L149.6 77.0 L149.3 76.2 L149.6 75.1 L148.6 74.6 L147.7 74.2 L147.5 73.3 L147.5 72.3 L147.6 71.2 L146.8 70.7 L145.8 70.3 L144.8 69.9 L144.8 68.9 L144.9 67.9 L144.6 66.6 L143.6 66.6 L142.7 66.7 L141.7 66.8 L141.2 66.0 L140.8 65.1 L140.4 64.2 L139.5 64.1 L138.5 64.2 L137.5 64.3 L137.1 63.8 L136.4 63.0 L135.7 62.3 L134.9 62.3 L133.9 62.7 L133.0 63.1 L132.2 62.7 L131.5 62.0 L130.5 61.9 L130.9 61.1 L130.8 60.3 L130.6 59.5 L130.3 58.7 L129.5 58.0 L129.6 57.2 L130.6 56.9 L130.8 55.9 L131.0 54.8 L131.7 54.2 L132.8 54.3 L133.9 54.4 L134.6 54.0 L134.8 53.0 L135.1 51.9 L135.7 51.3 L136.8 51.4 L137.9 51.5 L138.6 51.1 L138.9 50.1 L139.1 49.0 L139.7 48.3 L140.8 48.4 L141.9 48.5 L142.7 48.2 L142.9 47.2 L143.2 46.1 L144.2 44.4 L145.0 44.0 L145.8 44.3 L146.6 44.9 L147.4 45.4 L148.2 45.5 L149.0 44.8 L149.8 44.8 L150.6 45.1 L151.5 46.0 L152.3 45.9 L153.1 45.6 L153.9 45.1 L154.7 45.0 L155.5 45.3 L156.3 45.6 L157.1 45.6 L157.9 45.4 L158.7 44.8 L159.5 44.2 L160.3 44.2 L161.1 45.0 L161.9 45.2 L162.7 44.7 L163.6 44.6 L164.4 44.4 L165.2 44.7 L166.0 45.3 L166.8 45.6 L167.6 45.4 L168.4 45.2 L169.2 45.1 L170.0 45.6 L170.8 45.6 L171.6 46.2 L172.4 45.5 L173.2 44.9 L174.0 44.8 L174.8 44.9 L175.6 45.0 L176.4 44.9 L177.2 44.9 L178.0 44.3 L178.8 44.4 L179.7 44.3 L180.5 44.9 L181.3 45.5 L182.1 45.0 L182.9 44.9 L183.7 45.0 L184.5 45.3 L185.3 45.5 L186.1 45.8 L186.9 45.6 L187.7 45.6 L187.9 45.1 L188.7 45.0 L189.7 44.8 L190.2 44.2 L190.7 43.3 L191.9 42.4 L192.8 42.0 L193.6 42.0 L194.5 42.6 L195.4 42.5 L196.2 42.1 L197.0 41.6 L197.9 42.1 L198.8 42.7 L199.7 43.1 L200.5 43.3 L201.4 42.5 L202.2 42.4 L203.0 42.7 L203.8 43.4 L204.6 43.6 L205.5 43.1 L206.3 42.5 L207.1 42.2 L208.0 42.3 L208.8 42.8 L209.6 42.6 L210.4 42.6 L211.3 42.1 L212.1 42.0 L212.9 42.3 L213.7 42.8 L214.5 43.0 L215.4 42.9 L216.2 42.6 L217.0 42.9 L217.8 43.0 L218.6 43.6 L219.4 44.1 L220.3 43.5 L221.1 43.0 L221.9 42.8 L222.8 43.3 L223.6 43.5 L224.4 43.8 L225.5 43.9 L226.6 44.1 L226.9 45.0 L226.8 46.1 L226.8 47.2 L227.0 48.1 L228.0 48.3 L229.1 48.4 L230.2 48.6 L230.8 49.2 L230.7 50.3 L230.7 51.4 L230.7 52.5 L231.6 52.8 L232.7 53.0 L233.8 53.1 L234.7 53.5 L234.6 54.6 L234.6 55.7 L234.6 56.8 L235.3 57.3 L236.3 57.5 L237.4 57.6 L238.5 57.8 L238.5 58.9 L238.5 60.1 L238.4 61.2 L238.8 61.9 L239.9 62.1 L241.0 62.3 L242.1 62.5 L242.3 63.5 L242.2 64.6 L242.2 65.7 L243.1 67.0 L244.0 66.8 L244.9 66.1 L245.7 66.1 L246.5 66.5 L247.2 67.1 L248.0 67.2 L248.9 66.7 L249.8 66.2 L250.6 66.3 L252.2 68.7 L252.6 67.8 L252.8 66.6 L253.0 65.4 L253.2 64.3 L254.0 63.9 L255.1 64.2 L256.3 64.5 L257.5 64.7 L258.3 64.6 L258.6 63.4 L258.8 62.2 L259.0 61.1 L259.2 59.9 L260.4 60.2 L261.5 60.5 L262.7 60.8 L263.9 61.0 L264.3 60.2 L264.5 59.0 L264.6 57.9 L264.6 56.7 L265.1 56.1 L266.3 56.2 L267.5 56.2 L268.7 56.3 L269.7 56.2 L269.7 55.0 L269.7 53.9 L269.7 52.7 L269.6 51.5 L270.5 51.3 L271.7 51.3 L272.9 51.4 L274.1 51.5 L274.7 51.0 L274.7 49.8 L274.7 48.6 L274.7 47.4 L274.8 46.4 L276.0 46.4 L277.1 46.5 L278.3 46.6 L279.5 46.6 L279.8 45.7 L279.7 44.6 L279.7 43.4 L279.7 42.2 L280.2 41.5 L281.4 41.6 L282.5 41.6 L283.7 41.7 L284.8 41.7 L284.8 40.5 L284.8 39.3 L284.8 38.1 L284.7 37.0 L285.6 36.7 L286.8 36.7 L288.0 36.8 L289.1 36.9 L289.8 36.4 L289.8 35.3 L289.8 34.1 L289.8 32.9 L291.0 32.5 L292.0 32.9 L293.0 33.1 L293.9 32.7 L294.7 32.2 L295.6 32.0 L296.9 31.8 L298.0 31.9 L298.8 32.3 L298.8 33.4 L298.7 34.5 L298.7 35.7 L298.6 36.8 L299.7 36.9 L300.9 36.9 L302.0 37.0 L303.2 37.0 L303.6 37.8 L303.6 39.1 L303.1 40.1 L302.5 41.2 L302.7 42.0 L303.7 42.6 L304.8 43.1 L305.9 43.6 L306.5 44.3 L306.0 45.4 L305.4 46.5 L304.9 47.5 L304.6 48.5 L305.6 49.1 L306.7 49.6 L307.8 50.1 L308.9 51.4 L308.1 52.1 L307.1 52.8 L306.2 53.5 L305.3 54.3 L305.5 55.1 L306.2 56.0 L306.9 56.9 L307.6 57.8 L307.7 58.7 L306.7 59.6 L305.5 59.9 L304.4 60.2 L303.5 60.7 L303.8 61.8 L304.1 63.0 L304.3 64.2 L304.4 65.3 L303.2 65.5 L302.0 65.8 L300.8 66.1 L300.1 66.0 L300.0 67.2 L299.9 68.3 L299.8 69.5 L299.8 70.7 L298.8 70.8 L297.6 70.7 L296.5 70.6 L295.3 70.5 L294.8 71.2 L294.7 72.3 L294.6 73.5 L294.5 74.7 L292.8 74.1 L292.8 75.1 L292.0 75.6 L291.3 76.2 L290.5 76.7 L290.6 77.7 L290.6 78.7 L290.6 79.4 L290.5 80.2 L289.8 81.1 L289.9 81.9 L290.5 82.8 L291.0 83.6 L290.8 84.5 L290.6 85.3 L290.2 86.2 L289.8 87.1 L289.4 88.3 L290.0 89.0 L291.1 89.4 L292.3 89.7 L293.3 90.2 L292.9 91.4 L292.5 92.5 L292.1 93.7 L292.7 94.4 L293.8 94.7 L295.0 95.1 L296.0 95.6 L295.6 96.7 L295.3 97.8 L295.1 99.0 L295.5 99.6 L296.6 99.9 L297.8 100.1 L298.9 100.3 L299.0 101.2 L298.8 102.3 L298.5 103.5 L298.4 104.5 L299.5 104.8 L300.7 105.0 L301.8 105.2 L302.4 105.7 L302.2 106.9 L301.9 108.0 L301.7 109.1 L302.4 109.7 L303.6 109.9 L304.8 110.0 L305.9 110.2 L305.7 111.4 L305.5 112.6 L305.4 113.7 L305.8 114.5 L307.0 114.6 L308.1 114.8 L309.3 114.9 L309.4 115.9 L309.2 117.1 L308.6 118.2 L308.4 119.1 L309.5 119.6 L310.5 120.2 L311.6 120.7 L311.7 121.5 L311.1 122.6 L310.5 123.6 L310.0 124.7 L311.0 125.2 L312.1 125.8 L312.8 126.6 L312.6 127.5 L312.1 128.3 L312.5 129.2 L312.7 130.0 L312.9 130.9 L312.7 131.8 L312.0 132.6 L312.0 133.5 L311.9 134.3 L312.8 135.2 L312.3 136.0 L311.8 136.8 L311.4 137.7 L311.8 138.5 L312.2 139.4 L312.5 140.2 L312.0 141.0 L311.5 141.8 L311.1 142.6 L311.5 143.5 L311.9 144.4 L312.2 145.2 L311.7 146.0 L311.2 146.9 L310.8 147.7 L311.3 148.6 L311.7 149.5 L311.8 150.4 L311.3 151.2 L310.9 151.8 L310.3 152.4 L310.0 153.4 L309.8 154.3 L309.2 154.9 L308.3 155.3 L307.4 155.6 L306.9 156.3 L306.7 157.3 L306.4 158.2 L305.7 158.7 L304.8 159.1 L303.8 159.5 L303.7 160.5 L303.7 161.4 L303.7 162.4 L303.0 163.0 L302.2 163.6 L301.4 164.5 L301.8 165.3 L302.2 166.2 L302.4 167.0 L301.9 167.8 L301.4 168.6 L301.1 169.5 L301.4 170.3 L301.8 171.2 L302.1 172.0 L301.6 172.8 L301.2 173.6 L300.8 174.4 L301.1 175.2 L301.5 176.0 L301.9 176.8 L301.6 177.6 L301.1 178.4 L300.7 179.2 L301.0 179.7 L300.6 180.6 L300.1 181.5 L299.2 181.7 L298.2 181.9 L297.3 182.0 L296.8 182.9 L296.4 183.8 L295.9 184.6 L294.9 184.7 L293.8 184.9 L293.7 185.9 L293.2 186.6 L292.9 187.5 L291.9 187.8 L291.4 188.5 L290.8 189.1 L290.8 190.2 L290.4 191.0 L289.1 191.4 L288.2 190.8 L287.3 191.1 L286.5 191.2 L285.7 191.7 L284.8 191.9 L283.9 191.5 L282.6 191.6 L282.1 192.2 L281.8 193.1 L281.5 193.9 L280.9 194.5 L280.3 195.0 L279.7 195.5 L279.1 196.1 L278.4 196.7 L277.8 197.5 L276.9 197.5 L276.1 197.3 L275.2 196.8 L274.4 197.1 L273.7 197.8 L273.0 198.1 L272.1 197.9 L271.2 197.5 L270.3 197.1 L269.6 197.5 L268.9 198.0 L268.1 198.3 L267.3 198.5 L266.5 198.4 L265.7 198.3 L265.0 198.4 L264.2 199.2 L263.4 199.6 L262.6 199.8 L261.8 199.5 L261.0 199.0 L260.2 199.0 L259.4 199.7 L258.6 200.1 L257.7 199.7 L256.9 199.4 L256.1 199.0 L255.3 198.5 L254.5 199.0 L253.7 199.0 L252.9 199.1 L252.1 198.4 L251.5 198.2 L250.7 198.3 L249.7 198.6 L248.9 198.6 L248.1 198.4 L247.4 197.8 L246.5 197.8 L245.7 197.6 L244.8 198.1 L243.9 198.2 L242.8 197.9 L242.4 197.0 L241.9 196.2 L241.2 195.7 L240.1 195.9 L239.4 195.4 L239.0 194.5 L238.6 193.4 L237.9 193.1 L237.0 192.9 L236.3 192.5 L235.5 192.1 L234.8 191.7 L234.2 191.1 L233.6 190.4 L232.5 190.7 L231.6 190.6 L230.8 190.5 L230.2 189.8 L229.5 189.5 L228.9 188.9 L227.8 189.1 L227.0 189.0 L226.4 188.4 L225.9 187.5 L225.2 187.0 L224.3 186.8 L223.5 187.0 L222.6 187.2 L221.8 187.0 L220.9 186.6 L220.1 186.3 L215.7 186.1 L215.9 187.0 L216.4 188.0 L215.9 188.6 L215.3 189.3 L215.3 190.1 L215.0 190.9 L215.7 191.9 L215.5 192.7 L215.1 193.4 L214.4 194.1 L214.1 194.8 L213.9 195.6 L213.9 196.4 L213.8 197.2 L213.1 197.9 L212.4 198.5 L211.8 199.2 L211.9 200.0 L211.8 200.8 L211.8 201.7 L211.5 202.5 L210.7 203.1 L210.3 203.8 L210.6 204.7 L211.1 205.7 L210.9 207.1 L211.0 208.0 L210.6 208.8 L210.3 209.6 L210.7 210.4 L211.0 211.3 L211.0 212.1 L210.8 212.9 L209.9 213.7 L209.9 214.5 L209.7 215.3 L210.0 216.2 L210.1 217.0 L209.8 217.8 L209.1 218.6 L209.1 219.4 L209.2 220.3 L210.1 221.1 L209.9 221.9 L209.5 222.7 L209.4 223.5 L209.4 224.3 L210.2 225.1 L210.3 226.0 L210.6 226.8 L210.0 227.6 L209.5 228.3 L209.8 229.2 L209.7 230.0 L209.9 230.8 L210.2 231.6 L209.5 232.4 L208.7 233.1 L208.9 234.0 L208.7 234.8 L209.4 235.6 L209.1 236.4 L209.1 237.2 L208.6 238.0 L212.1 238.9" stroke="#f42c2c" stroke-width="1.15" fill="none" stroke-dasharray="3.5 1"/>
<circle cx="172.3" cy="23.7" r="3.8" fill="none" stroke="#2a2ae6" stroke-width="1.2"/>
<circle cx="178.2" cy="88.2" r="3.8" fill="none" stroke="#2a2ae6" stroke-width="1.2"/>
<circle cx="212.6" cy="86" r="3.8" fill="none" stroke="#2a2ae6" stroke-width="1.2"/>
<circle cx="261.6" cy="89.6" r="3.8" fill="none" stroke="#2a2ae6" stroke-width="1.2"/>
<circle cx="267.5" cy="106.9" r="3.8" fill="none" stroke="#2a2ae6" stroke-width="1.2"/>
<circle cx="216.7" cy="111.7" r="3.8" fill="none" stroke="#2a2ae6" stroke-width="1.2"/>
<circle cx="178.5" cy="110" r="3.8" fill="none" stroke="#2a2ae6" stroke-width="1.2"/>
<circle cx="176.7" cy="127.6" r="3.8" fill="none" stroke="#2a2ae6" stroke-width="1.2"/>
<circle cx="214" cy="133.2" r="3.8" fill="none" stroke="#2a2ae6" stroke-width="1.2"/>
<circle cx="262.2" cy="125.8" r="3.8" fill="none" stroke="#2a2ae6" stroke-width="1.2"/>
<circle cx="266.8" cy="145.6" r="3.8" fill="none" stroke="#2a2ae6" stroke-width="1.2"/>
<circle cx="226.6" cy="148.2" r="3.8" fill="none" stroke="#2a2ae6" stroke-width="1.2"/>
<circle cx="143.8" cy="152.7" r="3.8" fill="none" stroke="#2a2ae6" stroke-width="1.2"/>
<circle cx="155.8" cy="105.3" r="3.8" fill="none" stroke="#2a2ae6" stroke-width="1.2"/>
<circle cx="130.7" cy="61.9" r="3.8" fill="none" stroke="#2a2ae6" stroke-width="1.2"/>
<circle cx="199.7" cy="42.5" r="3.8" fill="none" stroke="#2a2ae6" stroke-width="1.2"/>
<circle cx="243.3" cy="65.9" r="3.8" fill="none" stroke="#2a2ae6" stroke-width="1.2"/>
<circle cx="296.6" cy="32.1" r="3.8" fill="none" stroke="#2a2ae6" stroke-width="1.2"/>
<circle cx="288.1" cy="74.3" r="3.8" fill="none" stroke="#2a2ae6" stroke-width="1.2"/>
<circle cx="312.2" cy="126.6" r="3.8" fill="none" stroke="#2a2ae6" stroke-width="1.2"/>
<circle cx="294.1" cy="185.1" r="3.8" fill="none" stroke="#2a2ae6" stroke-width="1.2"/>
<circle cx="225.2" cy="187.1" r="3.8" fill="none" stroke="#2a2ae6" stroke-width="1.2"/>
<circle cx="212.1" cy="238.9" r="3.8" fill="none" stroke="#2a2ae6" stroke-width="1.2"/>
<text x="160.9" y="24.9" text-anchor="middle" class="lbt">1</text>
<text x="181.2" y="80.8" text-anchor="middle" class="lbt">2</text>
<text x="213" y="79.9" text-anchor="middle" class="lbt">3</text>
<text x="261.5" y="81.9" text-anchor="middle" class="lbt">4</text>
<text x="278" y="110.9" text-anchor="middle" class="lbt">5</text>
<text x="224.7" y="106.9" text-anchor="middle" class="lbt">6</text>
<text x="188.8" y="107.2" text-anchor="middle" class="lbt">7</text>
<text x="165.3" y="133.9" text-anchor="middle" class="lbt">8</text>
<text x="204.7" y="140.2" text-anchor="middle" class="lbt">9</text>
<text x="277.6" y="128.6" text-anchor="middle" class="lbt">10</text>
<text x="272" y="159.4" text-anchor="middle" class="lbt">11</text>
<text x="229.7" y="162.9" text-anchor="middle" class="lbt">12</text>
<text x="142.8" y="167.8" text-anchor="middle" class="lbt">13</text>
<text x="142.2" y="107.5" text-anchor="middle" class="lbt">14</text>
<text x="118.1" y="61.1" text-anchor="middle" class="lbt">15</text>
<text x="208.7" y="36.1" text-anchor="middle" class="lbt">16</text>
<text x="248.7" y="58.2" text-anchor="middle" class="lbt">17</text>
<text x="313.2" y="36.5" text-anchor="middle" class="lbt">18</text>
<text x="304.2" y="82.8" text-anchor="middle" class="lbt">19</text>
<text x="323.3" y="128.0" text-anchor="middle" class="lbt">20</text>
<text x="306.2" y="196.9" text-anchor="middle" class="lbt">21</text>
<text x="227.6" y="204.1" text-anchor="middle" class="lbt">22</text>
<text x="198.7" y="239.1" text-anchor="middle" class="lbt">23</text>
<rect x="256.8" y="221" width="87.4" height="30.2" fill="#fff" stroke="#bdbdbd" stroke-width="0.6"/>
<path d="M258.1 227.7H270.1" stroke="#1ee61e" stroke-width="1.3"/>
<path d="M258.1 236.9H270.1" stroke="#f03030" stroke-width="0.9" stroke-dasharray="2 1"/>
<circle cx="264.4" cy="246.8" r="3.6" fill="none" stroke="#2a2ae6" stroke-width="1.2"/>
<text x="272" y="229.9" class="lg" textLength="70.7" lengthAdjust="spacingAndGlyphs">CDPR EE trajectory</text>
<text x="272" y="239.7" class="lg" textLength="62" lengthAdjust="spacingAndGlyphs">Magnet trajectory</text>
<text x="272" y="249.2" class="lg" textLength="34.7" lengthAdjust="spacingAndGlyphs">Via points</text>
<rect x="101" y="3.5" width="245.2" height="251.7" fill="none" stroke="#bcbcbc" stroke-width="0.9"/>
<path d="M142.1 255.2v-2.5M142.1 3.5v2.5M187.3 255.2v-2.5M187.3 3.5v2.5M232.5 255.2v-2.5M232.5 3.5v2.5M277.7 255.2v-2.5M277.7 3.5v2.5M322.9 255.2v-2.5M322.9 3.5v2.5M101 246.7h2.5M346.2 246.7h-2.5M101 201.6h2.5M346.2 201.6h-2.5M101 156.5h2.5M346.2 156.5h-2.5M101 111.4h2.5M346.2 111.4h-2.5M101 66.3h2.5M346.2 66.3h-2.5M101 21.2h2.5M346.2 21.2h-2.5" stroke="#a0a0a0" stroke-width="0.7"/>
<text x="142.1" y="265.3" text-anchor="middle" class="tk">-100</text>
<text x="187.3" y="265.3" text-anchor="middle" class="tk">-50</text>
<text x="232.5" y="265.3" text-anchor="middle" class="tk">0</text>
<text x="277.7" y="265.3" text-anchor="middle" class="tk">50</text>
<text x="322.9" y="265.3" text-anchor="middle" class="tk">100</text>
<text x="97.8" y="249.2" text-anchor="end" class="tk">-100</text>
<text x="97.8" y="204.1" text-anchor="end" class="tk">-50</text>
<text x="97.8" y="159.0" text-anchor="end" class="tk">0</text>
<text x="97.8" y="113.9" text-anchor="end" class="tk">50</text>
<text x="97.8" y="68.8" text-anchor="end" class="tk">100</text>
<text x="97.8" y="23.7" text-anchor="end" class="tk">150</text>
<text x="227" y="279.3" text-anchor="middle" class="ax" style="font-size:11px">X-direction (mm)</text>
<text transform="translate(75.3 117.3) rotate(-90)" text-anchor="middle" class="ax" style="font-size:11px">Y-direction (mm)</text>
<text x="204.9" y="300.5" text-anchor="middle" class="ax">(a)</text>
<rect x="36" y="305.3" width="366.9" height="193.7" fill="#fff"/>
<path d="M47.6 305.3V499M59.3 305.3V499M70.9 305.3V499M82.6 305.3V499M105.8 305.3V499M117.5 305.3V499M129.1 305.3V499M140.8 305.3V499M164.0 305.3V499M175.7 305.3V499M187.3 305.3V499M199.0 305.3V499M222.2 305.3V499M233.9 305.3V499M245.5 305.3V499M257.2 305.3V499M280.4 305.3V499M292.1 305.3V499M303.7 305.3V499M315.4 305.3V499M338.6 305.3V499M350.3 305.3V499M361.9 305.3V499M373.6 305.3V499M396.8 305.3V499M36 493.4H402.9M36 482.0H402.9M36 476.3H402.9M36 470.7H402.9M36 465.0H402.9M36 453.6H402.9M36 447.9H402.9M36 442.3H402.9M36 436.6H402.9M36 425.2H402.9M36 419.5H402.9M36 413.9H402.9M36 408.2H402.9M36 396.8H402.9M36 391.1H402.9M36 385.5H402.9M36 379.8H402.9M36 368.4H402.9M36 362.7H402.9M36 357.1H402.9M36 351.4H402.9M36 340.0H402.9M36 334.3H402.9M36 328.7H402.9M36 323.0H402.9M36 311.6H402.9M36 305.9H402.9" stroke="#f6f6f6" stroke-width="0.6" fill="none"/>
<path d="M94.2 305.3V499M152.4 305.3V499M210.6 305.3V499M268.8 305.3V499M327.0 305.3V499M385.2 305.3V499M36 487.7H402.9M36 459.3H402.9M36 430.9H402.9M36 402.5H402.9M36 374.1H402.9M36 345.7H402.9M36 317.3H402.9" stroke="#ececec" stroke-width="0.7" fill="none"/>
<path d="M36.0 440.1 L66.4 440.1 L71.5 442.4 L78.9 439.2 L84.0 436.3 L88.7 429.4 L94.8 414.7 L99.7 413.5 L103.4 406.1 L107.1 400.0 L109.7 389.7 L113.6 384.0 L118.0 381.5 L123.9 380.1 L128.0 386.0 L132.8 395.7 L137.4 404.8 L145.4 412.6 L148.4 422.0 L153.8 436.7 L158.2 439.1 L165.0 437.4 L169.2 424.4 L173.1 413.9 L177.8 402.4 L182.5 387.1 L184.7 383.4 L187.6 379.7 L196.5 380.4 L197.9 387.1 L203.1 405.9 L206.5 414.6 L210.9 434.2 L215.8 451.4 L221.2 458.0 L224.0 459.5 L227.0 458.0 L231.9 450.3 L234.5 450.0 L238.5 452.5 L242.2 460.0 L245.8 466.1 L249.5 461.2 L254.4 444.0 L259.3 429.3 L265.0 423.2 L269.1 414.6 L274.0 402.4 L280.6 396.0 L288.7 378.5 L296.1 362.6 L303.4 355.2 L309.6 363.8 L312.6 367.5 L317.8 365.8 L322.7 362.6 L327.6 352.8 L333.7 352.3 L338.6 354.0 L344.8 358.9 L350.9 362.6 L353.3 365.0 L359.5 363.8 L364.4 368.7 L368.0 385.9 L370.5 401.0 L372.5 406.7 L376.6 409.6 L380.3 414.5 L385.9 415.2 L403.0 414.8" stroke="#2e2222" stroke-width="1.0" fill="none" stroke-linejoin="round"/>
<path d="M36.8 440.4 L67.2 440.4 L72.3 442.7 L79.7 439.5 L84.8 436.6 L89.5 429.7 L95.6 415.0 L100.5 413.8 L104.2 406.4 L107.9 400.3 L110.5 390.0 L114.4 384.3 L118.8 381.8 L124.7 380.4 L128.8 386.3 L133.6 396.0 L138.2 405.1 L146.2 412.9 L149.2 422.3 L154.6 437.0 L159.0 439.4 L165.8 437.7 L170.0 424.7 L173.9 414.2 L178.6 402.7 L183.3 387.4 L185.5 383.7 L188.4 380.0 L197.3 380.7 L198.7 387.4 L203.9 406.2 L207.3 414.9 L211.7 434.5 L216.6 451.7 L222.0 458.3 L224.8 459.8 L227.8 458.3 L232.7 450.6 L235.3 450.3 L239.3 452.8 L243.0 460.3 L246.6 466.4 L250.3 461.5 L255.2 444.3 L260.1 429.6 L265.8 423.5 L269.9 414.9 L274.8 402.7 L281.4 396.3 L289.5 378.8 L296.9 362.9 L304.2 355.5 L310.4 364.1 L313.4 367.8 L318.6 366.1 L323.5 362.9 L328.4 353.1 L334.5 352.6 L339.4 354.3 L345.6 359.2 L351.7 362.9 L354.1 365.3 L360.3 364.1 L365.2 369.0 L368.8 386.2 L371.3 401.3 L373.3 407.0 L377.4 409.9 L381.1 414.8 L386.7 415.5 L403.8 415.1" stroke="#ee4848" stroke-width="0.9" fill="none" stroke-dasharray="3 0.8"/>
<path d="M36.0 317.3 L66.4 317.3 L69.1 322.2 L72.8 336.9 L76.4 349.1 L80.1 357.7 L84.3 359.4 L87.5 362.1 L92.4 360.9 L97.3 358.4 L104.6 357.7 L109.0 358.0 L113.7 359.9 L118.1 365.0 L123.7 371.2 L130.0 373.6 L145.2 374.1 L149.6 374.1 L153.8 372.9 L159.4 378.5 L165.5 383.9 L169.2 387.6 L173.4 387.9 L177.8 387.1 L184.7 383.4 L188.4 384.0 L192.1 391.5 L196.5 395.9 L203.1 398.1 L210.4 395.9 L217.1 403.2 L221.2 400.3 L225.9 384.1 L228.7 376.1 L232.4 370.4 L237.3 356.5 L242.2 345.4 L245.8 343.0 L249.5 334.4 L252.0 331.5 L256.9 332.0 L261.8 330.2 L265.0 330.0 L270.3 330.7 L275.2 338.1 L280.9 345.4 L286.3 339.3 L291.2 328.3 L296.1 323.4 L298.5 327.0 L304.5 341.0 L309.7 353.0 L317.5 353.5 L323.4 368.2 L327.6 376.1 L333.7 383.4 L339.9 395.7 L342.3 399.8 L346.0 405.9 L349.7 414.5 L353.3 424.3 L355.8 425.0 L359.5 420.6 L363.1 424.3 L366.8 430.0 L370.5 426.8 L372.5 421.9 L376.6 420.6 L379.1 426.8 L381.5 442.7 L385.9 455.0 L388.9 457.4 L403.0 457.4" stroke="#2a3cff" stroke-width="1.15" fill="none" stroke-linejoin="round"/>
<path d="M67.2 318.2 L69.9 323.1 L73.6 337.8 L77.2 350.0 L80.9 358.6 L85.1 360.2 L88.3 363.0 L93.2 361.8 L98.1 359.2 L105.4 358.6 L109.8 358.9 L114.5 360.8 L118.9 365.9 L124.5 372.1 L130.8 374.5 L146.0 375.0 L150.4 375.0 L154.7 373.8 L160.2 379.4 L166.3 384.8 L170.0 388.5 L174.2 388.8 L178.7 388.0 L185.5 384.2 L189.2 384.9 L192.9 392.4 L197.3 396.8 L203.9 399.0 L211.2 396.8 L217.9 404.1 L222.0 401.2 L226.8 385.0 L229.5 377.0 L233.2 371.2 L238.2 357.4 L243.0 346.2 L246.7 343.9 L250.3 335.2 L252.8 332.4 L257.8 332.9 L262.7 331.1 L265.9 330.9 L271.2 331.6 L276.1 339.0 L281.8 346.2 L287.2 340.2 L292.1 329.2 L297.0 324.2 L299.4 327.9 L305.4 341.9 L310.6 353.9 L318.4 354.4 L324.2 369.1 L328.5 377.0 L334.6 384.2 L340.8 396.6 L343.2 400.7 L346.9 406.8 L350.6 415.4 L354.2 425.2 L356.7 425.9 L360.4 421.5 L364.0 425.2 L367.7 430.9 L371.4 427.7 L373.4 422.8 L377.5 421.5 L380.0 427.7 L382.4 443.6 L386.8 455.9 L389.8 458.2 L403.9 458.2" stroke="#22e6a6" stroke-width="1.0" fill="none" stroke-dasharray="3 0.8"/>
<rect x="64.0" y="314.9" width="4.8" height="4.8" fill="none" stroke="#1a1a1a" stroke-width="1"/>
<rect x="81.9" y="357.0" width="4.8" height="4.8" fill="none" stroke="#1a1a1a" stroke-width="1"/>
<rect x="106.6" y="355.6" width="4.8" height="4.8" fill="none" stroke="#1a1a1a" stroke-width="1"/>
<rect x="111.3" y="357.5" width="4.8" height="4.8" fill="none" stroke="#1a1a1a" stroke-width="1"/>
<rect x="121.3" y="368.8" width="4.8" height="4.8" fill="none" stroke="#1a1a1a" stroke-width="1"/>
<rect x="142.8" y="371.7" width="4.8" height="4.8" fill="none" stroke="#1a1a1a" stroke-width="1"/>
<rect x="151.4" y="370.5" width="4.8" height="4.8" fill="none" stroke="#1a1a1a" stroke-width="1"/>
<rect x="163.1" y="381.5" width="4.8" height="4.8" fill="none" stroke="#1a1a1a" stroke-width="1"/>
<rect x="171.0" y="385.5" width="4.8" height="4.8" fill="none" stroke="#1a1a1a" stroke-width="1"/>
<rect x="182.3" y="381.0" width="4.8" height="4.8" fill="none" stroke="#1a1a1a" stroke-width="1"/>
<rect x="194.1" y="393.5" width="4.8" height="4.8" fill="none" stroke="#1a1a1a" stroke-width="1"/>
<rect x="200.7" y="395.7" width="4.8" height="4.8" fill="none" stroke="#1a1a1a" stroke-width="1"/>
<rect x="218.8" y="397.9" width="4.8" height="4.8" fill="none" stroke="#1a1a1a" stroke-width="1"/>
<rect x="230.0" y="368.0" width="4.8" height="4.8" fill="none" stroke="#1a1a1a" stroke-width="1"/>
<rect x="243.4" y="340.6" width="4.8" height="4.8" fill="none" stroke="#1a1a1a" stroke-width="1"/>
<rect x="262.6" y="327.6" width="4.8" height="4.8" fill="none" stroke="#1a1a1a" stroke-width="1"/>
<rect x="278.5" y="343.0" width="4.8" height="4.8" fill="none" stroke="#1a1a1a" stroke-width="1"/>
<rect x="293.7" y="321.0" width="4.8" height="4.8" fill="none" stroke="#1a1a1a" stroke-width="1"/>
<rect x="310.1" y="347.9" width="4.8" height="4.8" fill="none" stroke="#1a1a1a" stroke-width="1"/>
<rect x="331.3" y="381.0" width="4.8" height="4.8" fill="none" stroke="#1a1a1a" stroke-width="1"/>
<rect x="357.1" y="418.2" width="4.8" height="4.8" fill="none" stroke="#1a1a1a" stroke-width="1"/>
<rect x="370.1" y="419.5" width="4.8" height="4.8" fill="none" stroke="#1a1a1a" stroke-width="1"/>
<rect x="383.5" y="452.6" width="4.8" height="4.8" fill="none" stroke="#1a1a1a" stroke-width="1"/>
<circle cx="66.4" cy="440.1" r="2.8" fill="none" stroke="#ff18ff" stroke-width="1.1"/>
<circle cx="84" cy="436.3" r="2.8" fill="none" stroke="#ff18ff" stroke-width="1.1"/>
<circle cx="109.7" cy="389.7" r="2.8" fill="none" stroke="#ff18ff" stroke-width="1.1"/>
<circle cx="113.6" cy="384" r="2.8" fill="none" stroke="#ff18ff" stroke-width="1.1"/>
<circle cx="123.9" cy="380.1" r="2.8" fill="none" stroke="#ff18ff" stroke-width="1.1"/>
<circle cx="145.4" cy="412.6" r="2.8" fill="none" stroke="#ff18ff" stroke-width="1.1"/>
<circle cx="153.8" cy="436.7" r="2.8" fill="none" stroke="#ff18ff" stroke-width="1.1"/>
<circle cx="165" cy="437.4" r="2.8" fill="none" stroke="#ff18ff" stroke-width="1.1"/>
<circle cx="173.1" cy="413.9" r="2.8" fill="none" stroke="#ff18ff" stroke-width="1.1"/>
<circle cx="184.7" cy="383.4" r="2.8" fill="none" stroke="#ff18ff" stroke-width="1.1"/>
<circle cx="196.5" cy="380.4" r="2.8" fill="none" stroke="#ff18ff" stroke-width="1.1"/>
<circle cx="203.1" cy="405.9" r="2.8" fill="none" stroke="#ff18ff" stroke-width="1.1"/>
<circle cx="221.2" cy="458" r="2.8" fill="none" stroke="#ff18ff" stroke-width="1.1"/>
<circle cx="231.9" cy="450.1" r="2.8" fill="none" stroke="#ff18ff" stroke-width="1.1"/>
<circle cx="245.8" cy="466.1" r="2.8" fill="none" stroke="#ff18ff" stroke-width="1.1"/>
<circle cx="265" cy="423.2" r="2.8" fill="none" stroke="#ff18ff" stroke-width="1.1"/>
<circle cx="280.6" cy="396" r="2.8" fill="none" stroke="#ff18ff" stroke-width="1.1"/>
<circle cx="296.1" cy="362.6" r="2.8" fill="none" stroke="#ff18ff" stroke-width="1.1"/>
<circle cx="312.6" cy="367.5" r="2.8" fill="none" stroke="#ff18ff" stroke-width="1.1"/>
<circle cx="333.7" cy="352.3" r="2.8" fill="none" stroke="#ff18ff" stroke-width="1.1"/>
<circle cx="359.5" cy="363.8" r="2.8" fill="none" stroke="#ff18ff" stroke-width="1.1"/>
<circle cx="372.5" cy="406.7" r="2.8" fill="none" stroke="#ff18ff" stroke-width="1.1"/>
<circle cx="385.9" cy="415.2" r="2.8" fill="none" stroke="#ff18ff" stroke-width="1.1"/>
<text x="72.3" y="318.0" text-anchor="middle" class="lb">1</text>
<text x="88.2" y="353.5" text-anchor="middle" class="lb">2</text>
<text x="109.5" y="353.5" text-anchor="middle" class="lb">3</text>
<text x="121" y="358.4" text-anchor="middle" class="lb">4</text>
<text x="129.1" y="367.0" text-anchor="middle" class="lb">5</text>
<text x="145.2" y="368.2" text-anchor="middle" class="lb">6</text>
<text x="157" y="368.2" text-anchor="middle" class="lb">7</text>
<text x="167.3" y="379.8" text-anchor="middle" class="lb">8</text>
<text x="176.1" y="381.2" text-anchor="middle" class="lb">9</text>
<text x="185.9" y="375.6" text-anchor="middle" class="lb">10</text>
<text x="194.3" y="407.6" text-anchor="middle" class="lb">11</text>
<text x="206" y="392.8" text-anchor="middle" class="lb">12</text>
<text x="218.2" y="394.5" text-anchor="middle" class="lb">13</text>
<text x="229.3" y="365.1" text-anchor="middle" class="lb">14</text>
<text x="239.7" y="335.2" text-anchor="middle" class="lb">15</text>
<text x="265.9" y="324.1" text-anchor="middle" class="lb">16</text>
<text x="282.1" y="335.2" text-anchor="middle" class="lb">17</text>
<text x="298.5" y="318.0" text-anchor="middle" class="lb">18</text>
<text x="315.2" y="345.0" text-anchor="middle" class="lb">19</text>
<text x="330" y="394.7" text-anchor="middle" class="lb">20</text>
<text x="356.5" y="434.4" text-anchor="middle" class="lb">21</text>
<text x="373.7" y="436.8" text-anchor="middle" class="lb">22</text>
<text x="389.6" y="468.0" text-anchor="middle" class="lb">23</text>
<text x="63.7" y="451.5" text-anchor="middle" class="lb">1</text>
<text x="88.7" y="448.5" text-anchor="middle" class="lb">2</text>
<text x="110.5" y="404.5" text-anchor="middle" class="lb">3</text>
<text x="116.9" y="395.2" text-anchor="middle" class="lb">4</text>
<text x="124.2" y="391.5" text-anchor="middle" class="lb">5</text>
<text x="138.6" y="422.2" text-anchor="middle" class="lb">6</text>
<text x="151.6" y="448.4" text-anchor="middle" class="lb">7</text>
<text x="166.8" y="448.9" text-anchor="middle" class="lb">8</text>
<text x="176.6" y="424.7" text-anchor="middle" class="lb">9</text>
<text x="186.2" y="399.1" text-anchor="middle" class="lb">10</text>
<text x="202.8" y="377.6" text-anchor="middle" class="lb">11</text>
<text x="200.1" y="421.2" text-anchor="middle" class="lb">12</text>
<text x="218.7" y="469.8" text-anchor="middle" class="lb">13</text>
<text x="234.1" y="462.7" text-anchor="middle" class="lb">14</text>
<text x="252.5" y="474.7" text-anchor="middle" class="lb">15</text>
<text x="270.8" y="433.0" text-anchor="middle" class="lb">16</text>
<text x="286.8" y="406.8" text-anchor="middle" class="lb">17</text>
<text x="299.8" y="376.3" text-anchor="middle" class="lb">18</text>
<text x="313.2" y="380.5" text-anchor="middle" class="lb">19</text>
<text x="338.1" y="345.5" text-anchor="middle" class="lb">20</text>
<text x="367.3" y="360.4" text-anchor="middle" class="lb">21</text>
<text x="379.1" y="401.8" text-anchor="middle" class="lb">22</text>
<text x="389.6" y="410.4" text-anchor="middle" class="lb">23</text>
<rect x="37.3" y="459.5" width="99.9" height="37.2" fill="#fff" stroke="#bdbdbd" stroke-width="0.6"/>
<path d="M39.8 466.4H48.7" stroke="#f05050" stroke-width="0.9" stroke-dasharray="2 1"/>
<path d="M39.8 475H48.7" stroke="#555" stroke-width="0.8"/>
<path d="M39.8 483.5H48.7" stroke="#20e070" stroke-width="0.9" stroke-dasharray="2.5 0.8"/>
<path d="M39.8 491.4H48.7" stroke="#4a4aff" stroke-width="0.9"/>
<text x="50.6" y="469" class="lg2" textLength="84.4" lengthAdjust="spacingAndGlyphs">CDPR EE trajectory (X-Dir)</text>
<text x="50.6" y="477.6" class="lg2" textLength="76.8" lengthAdjust="spacingAndGlyphs">Magnet trajectory (X-Dir)</text>
<text x="50.6" y="486.1" class="lg2" textLength="83.5" lengthAdjust="spacingAndGlyphs">CDPR EE trajectory (Y-Dir)</text>
<text x="50.6" y="494" class="lg2" textLength="76" lengthAdjust="spacingAndGlyphs">Magnet trajectory (Y-Dir)</text>
<rect x="36" y="305.3" width="366.9" height="193.7" fill="none" stroke="#bcbcbc" stroke-width="0.9"/>
<path d="M36.0 499v-2.5M36.0 305.3v2.5M94.2 499v-2.5M94.2 305.3v2.5M152.4 499v-2.5M152.4 305.3v2.5M210.6 499v-2.5M210.6 305.3v2.5M268.8 499v-2.5M268.8 305.3v2.5M327.0 499v-2.5M327.0 305.3v2.5M385.2 499v-2.5M385.2 305.3v2.5M36 487.7h2.5M402.9 487.7h-2.5M36 459.3h2.5M402.9 459.3h-2.5M36 430.9h2.5M402.9 430.9h-2.5M36 402.5h2.5M402.9 402.5h-2.5M36 374.1h2.5M402.9 374.1h-2.5M36 345.7h2.5M402.9 345.7h-2.5M36 317.3h2.5M402.9 317.3h-2.5" stroke="#a0a0a0" stroke-width="0.7"/>
<text x="36.0" y="509.2" text-anchor="middle" class="tk">0</text>
<text x="94.2" y="509.2" text-anchor="middle" class="tk">10</text>
<text x="152.4" y="509.2" text-anchor="middle" class="tk">20</text>
<text x="210.6" y="509.2" text-anchor="middle" class="tk">30</text>
<text x="268.8" y="509.2" text-anchor="middle" class="tk">40</text>
<text x="327.0" y="509.2" text-anchor="middle" class="tk">50</text>
<text x="385.2" y="509.2" text-anchor="middle" class="tk">60</text>
<text x="32.8" y="490.5" text-anchor="end" class="tk">-150</text>
<text x="32.8" y="462.1" text-anchor="end" class="tk">-100</text>
<text x="32.8" y="433.7" text-anchor="end" class="tk">-50</text>
<text x="32.8" y="405.3" text-anchor="end" class="tk">0</text>
<text x="32.8" y="376.9" text-anchor="end" class="tk">50</text>
<text x="32.8" y="348.5" text-anchor="end" class="tk">100</text>
<text x="32.8" y="320.1" text-anchor="end" class="tk">150</text>
<text x="218" y="523.3" text-anchor="middle" class="ax" style="font-size:9.7px">Time (s)</text>
<text transform="translate(16.3 396.1) rotate(-90)" text-anchor="middle" class="ax" style="font-size:9.7px">Position (mm)</text>
<text x="204.9" y="543.3" text-anchor="middle" class="ax">(b)</text>
</svg>
</body></html>
